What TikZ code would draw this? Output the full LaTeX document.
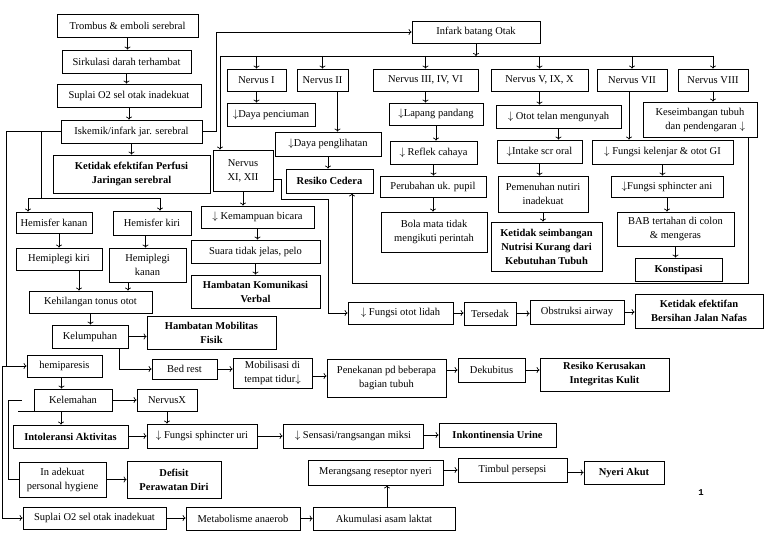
\documentclass[tikz,border=0pt]{standalone}
\usepackage{fontspec}
\setmainfont{Liberation Serif}
\setmonofont{Liberation Mono}
\usetikzlibrary{arrows}
\usetikzlibrary{arrows.meta}

\begin{document}
\begin{tikzpicture}
    [process/.style={draw, line width=0.8pt, align=center, inner sep=1pt, font=\fontsize{10.5}{14}\selectfont},
    problem/.style={process, font=\fontsize{10.5}{14}\selectfont\bfseries},
    wh/.style 2 args={minimum width=#1pt, minimum height=#2pt},
    link/.style={-{To[length=3pt, width=6pt]}, line width=0.7pt},
    pagenum/.style={font=\ttfamily\bfseries\small, inner sep=0pt},
    x=1pt, y=-1pt]
     \useasboundingbox (0,0) rectangle (768,543);
     % left column
     \node[process, wh={141}{23}] (trombus) at (127.5,25.5)  {Trombus \& emboli serebral};
     \node[process, wh={129}{23}] (sirkulasi) at (126.5,61.5) {Sirkulasi darah terhambat};
     \node[process, wh={144}{23}] (suplai) at (129,95.5)     {Suplai O2 sel otak inadekuat};
     \node[process, wh={141}{23}] (iskemik) at (131.5,131.5) {Iskemik/infark jar. serebral};
     \node[problem, wh={157}{38}] (perfusi) at (131.5,174)   {Ketidak efektifan Perfusi\\Jaringan serebral};
     % batang otak
     \node[process, wh={128}{22}] (infark) at (476,32)       {Infark batang Otak};
     \node[process, wh={59}{22}]  (n1) at (256.5,80)         {Nervus I};
     \node[process, wh={51}{22}]  (n2) at (322.5,80)         {Nervus II};
     \node[process, wh={105}{22}] (n3) at (425.5,80)         {Nervus III, IV, VI};
     \node[process, wh={97}{22}]  (n5) at (539.5,80)         {Nervus V, IX, X};
     \node[process, wh={70}{22}]  (n7) at (632,80)           {Nervus VII};
     \node[process, wh={70}{22}]  (n8) at (713,80)           {Nervus VIII};
     \node[process, wh={88}{23}]  (penciuman) at (271,114.5) {$\downarrow$Daya penciuman};
     \node[process, wh={106}{24}] (penglihatan) at (328,144) {$\downarrow$Daya penglihatan};
     \node[process, wh={60}{41}]  (n11) at (243,170.5)       {Nervus\\XI, XII};
     \node[problem, wh={87}{24}]  (cedera) at (329.5,181)    {Resiko Cedera};
     \node[process, wh={94}{22}]  (lapang) at (436,114)      {$\downarrow$Lapang pandang};
     \node[process, wh={87}{23}]  (reflek) at (433.5,152.5)  {$\downarrow$ Reflek cahaya};
     \node[process, wh={106}{21}] (pupil) at (433,186.5)     {Perubahan uk. pupil};
     \node[process, wh={106}{40}] (bola) at (434,232)        {Bola mata tidak\\mengikuti perintah};
     \node[process, wh={125}{23}] (telan) at (558.5,116.5)   {$\downarrow$ Otot telan mengunyah};
     \node[process, wh={85}{23}]  (intake) at (539.5,151.5)  {$\downarrow$Intake scr oral};
     \node[process, wh={90}{36}]  (nutiri) at (543,194)      {Pemenuhan nutiri\\inadekuat};
     \node[problem, wh={111}{49}] (nutrisi) at (546.5,246.5) {Ketidak seimbangan\\Nutrisi Kurang dari\\Kebutuhan Tubuh};
     \node[process, wh={114}{35}] (keseimbangan) at (700,119.5) {Keseimbangan tubuh\\\quad dan pendengaran $\downarrow$};
     \node[process, wh={141}{24}] (kelenjar) at (662.5,152)  {$\downarrow$ Fungsi kelenjar \& otot GI};
     \node[process, wh={112}{21}] (ani) at (667,186.5)       {$\downarrow$Fungsi sphincter ani};
     \node[process, wh={117}{34}] (bab) at (675.5,229)       {BAB tertahan di colon\\\& mengeras};
     \node[problem, wh={87}{23}]  (konstipasi) at (678.5,269.5) {Konstipasi};
     \node[process, wh={105}{22}] (lidah) at (400.5,313)     {$\downarrow$ Fungsi otot lidah};
     \node[process, wh={52}{23}]  (tersedak) at (490,313.5)  {Tersedak};
     \node[process, wh={94}{24}]  (obstruksi) at (577,312)   {Obstruksi airway};
     \node[problem, wh={128}{34}] (bersihan) at (699,311)    {Ketidak efektifan\\Bersihan Jalan Nafas};
     % hemisfer
     \node[process, wh={76}{21}]  (hkanan) at (54,222.5)     {Hemisfer kanan};
     \node[process, wh={78}{24}]  (hkiri) at (152,223)       {Hemisfer kiri};
     \node[process, wh={86}{22}]  (hpkiri) at (59,259)       {Hemiplegi kiri};
     \node[process, wh={77}{34}]  (hpkanan) at (147.5,265)   {Hemiplegi\\kanan};
     \node[process, wh={123}{22}] (tonus) at (90.5,302)      {Kehilangan tonus otot};
     \node[process, wh={76}{23}]  (kelumpuhan) at (90,336.5) {Kelumpuhan};
     \node[problem, wh={129}{33}] (mobilitas) at (211.5,332.5) {Hambatan Mobilitas\\Fisik};
     \node[process, wh={113}{22}] (bicara) at (257.5,217)    {$\downarrow$ Kemampuan bicara};
     \node[process, wh={129}{23}] (suara) at (255.5,251.5)   {Suara tidak jelas, pelo};
     \node[problem, wh={129}{33}] (komunikasi) at (255.5,291.5) {Hambatan Komunikasi\\Verbal};
     % lower part
     \node[process, wh={75}{22}]  (hemiparesis) at (64.5,366) {hemiparesis};
     \node[process, wh={65}{20}]  (bedrest) at (184.5,369)   {Bed rest};
     \node[process, wh={79}{30}]  (mobilisasi) at (272.5,373) {Mobilisasi di\\tempat tidur$\downarrow$};
     \node[process, wh={119}{38}] (penekanan) at (386.5,378) {Penekanan pd beberapa\\bagian tubuh};
     \node[process, wh={67}{24}]  (dekubitus) at (491.5,370) {Dekubitus};
     \node[problem, wh={129}{33}] (kulit) at (604.5,374.5)   {Resiko Kerusakan\\Integritas Kulit};
     \node[process, wh={78}{22}]  (kelemahan) at (73,400)    {Kelemahan};
     \node[process, wh={60}{22}]  (nervusx) at (167,400)     {NervusX};
     \node[problem, wh={115}{23}] (intoleransi) at (70.5,436.5) {Intoleransi Aktivitas};
     \node[process, wh={110}{24}] (uri) at (202,436)         {$\downarrow$ Fungsi sphincter uri};
     \node[process, wh={140}{24}] (miksi) at (353,436)       {$\downarrow$ Sensasi/rangsangan miksi};
     \node[problem, wh={117}{24}] (urine) at (497.5,435)     {Inkontinensia Urine};
     \node[process, wh={87}{35}]  (hygiene) at (62.5,479.5)  {In adekuat\\personal hygiene};
     \node[problem, wh={94}{37}]  (defisit) at (174,479.5)   {Defisit\\Perawatan Diri};
     \node[process, wh={135}{25}] (reseptor) at (375.5,472.5) {Merangsang reseptor nyeri};
     \node[process, wh={109}{24}] (persepsi) at (512.5,470)  {Timbul persepsi};
     \node[problem, wh={80}{23}]  (nyeri) at (624,472.5)     {Nyeri Akut};
     \node[process, wh={143}{22}] (suplaib) at (94.5,518)    {Suplai O2 sel otak inadekuat};
     \node[process, wh={114}{23}] (anaerob) at (243,518.5)   {Metabolisme anaerob};
     \node[process, wh={142}{23}] (laktat) at (384,518.5)    {Akumulasi asam laktat};
     \node[pagenum] (pgnum) at (701,493) {1};
     % helper points
     \coordinate (busL) at (220,56);
     \coordinate (busR) at (713,56);
     \coordinate (lefttop) at (6,131.5);
     \coordinate (leftlow) at (2.5,366);
     \coordinate (hsplit) at (41,198);
     \coordinate (kloop) at (8,400);
     \coordinate (loopc) at (352,283);
     % main chain
     \draw[link] (trombus.south) -- (trombus.south |- sirkulasi.north);
     \draw[link] (sirkulasi.south) -- (sirkulasi.south |- suplai.north);
     \draw[link] (suplai.south) -- (suplai.south |- iskemik.north);
     \draw[link] (iskemik.south) -- (iskemik.south |- perfusi.north);
     \draw[link] (iskemik.east) -- ++(14,0) |- (infark.west);
     \draw[link] (infark.south) -- (infark.south |- busL);
     \draw[line width=0.7pt] (busL) -- (busR);
     \draw[link] (busL) -- (busL |- n11.north);
     \draw[link] (n1.north |- busL) -- (n1.north);
     \draw[link] (n2.north |- busL) -- (n2.north);
     \draw[link] (n3.north |- busL) -- (n3.north);
     \draw[link] (n5.north |- busL) -- (n5.north);
     \draw[link] (n7.north |- busL) -- (n7.north);
     \draw[link] (busR) -- (n8.north);
     % nervus branches
     \draw[link] (n1.south) -- (n1.south |- penciuman.north);
     \draw[link] ([xshift=15pt]n2.south) -- ([xshift=15pt]n2.south |- penglihatan.north);
     \draw[link] (penglihatan.south) -- (penglihatan.south |- cedera.north);
     \draw[link] (n11.south) -- (n11.south |- bicara.north);
     \draw[link] (bicara.south) -- (bicara.south |- suara.north);
     \draw[link] (suara.south) -- (suara.south |- komunikasi.north);
     \draw[link] ([yshift=-8.5pt]n11.east) -- ++(8,0) -- ++(0,20) -- ++(47,0) |- (lidah.west);
     \draw[link] (n3.south) -- (n3.south |- lapang.north);
     \draw[link] (lapang.south) -- (lapang.south |- reflek.north);
     \draw[link] (reflek.south) -- (reflek.south |- pupil.north);
     \draw[link] (pupil.south) -- (pupil.south |- bola.north);
     \draw[link] (n5.south) -- (n5.south |- telan.north);
     \draw[link] (telan.south) -- (telan.south |- intake.north);
     \draw[link] (intake.south) -- (intake.south |- nutiri.north);
     \draw[link] (nutiri.south) -- (nutiri.south |- nutrisi.north);
     \draw[link] ([xshift=-3pt]n7.south) -- ([xshift=-3pt]n7.south |- kelenjar.north);
     \draw[link] (n8.south) -- (n8.south |- keseimbangan.north);
     \draw[link] (kelenjar.south) -- (kelenjar.south |- ani.north);
     \draw[link] (ani.south) -- (ani.south |- bab.north);
     \draw[link] (bab.south) -- (bab.south |- konstipasi.north);
     \draw[link] ([xshift=-9pt]keseimbangan.south east) |- (loopc) -- (loopc |- cedera.south);
     \draw[link] (lidah.east) -- (lidah.east -| tersedak.west);
     \draw[link] (tersedak.east) -- (tersedak.east -| obstruksi.west);
     \draw[link] (obstruksi.east) -- (obstruksi.east -| bersihan.west);
     % hemisfer branches
     \draw[line width=0.7pt] (iskemik.west) -- (lefttop);
     \draw[line width=0.7pt] (hsplit |- iskemik.west) -- (hsplit);
     \draw[link] (hsplit) -| ([xshift=-26pt]hkanan.north);
     \draw[link] (hsplit) -| ([xshift=8pt]hkiri.north);
     \draw[link] (hpkiri.north |- hkanan.south) -- (hpkiri.north);
     \draw[link] ([xshift=-2pt]hpkanan.north |- hkiri.south) -- ([xshift=-2pt]hpkanan.north);
     \draw[link] ([xshift=20pt]hpkiri.south) -- ([xshift=20pt]hpkiri.south |- tonus.north);
     \draw[link] ([xshift=-19.5pt]hpkanan.south) -- ([xshift=-19.5pt]hpkanan.south |- tonus.north);
     \draw[link] (tonus.south) -- (tonus.south |- kelumpuhan.north);
     \draw[link] (kelumpuhan.east) -- (kelumpuhan.east -| mobilitas.west);
     \draw[link] ([xshift=29pt]kelumpuhan.south) |- (bedrest.west);
     \draw[link] (bedrest.east) -- (bedrest.east -| mobilisasi.west);
     \draw[link] ([yshift=-3pt]mobilisasi.east) -- ([yshift=-3pt]mobilisasi.east -| penekanan.west);
     \draw[link] (dekubitus.west -| penekanan.east) -- (dekubitus.west);
     \draw[link] (dekubitus.east) -- (dekubitus.east -| kulit.west);
     % lower left
     \draw[link] (lefttop) |- (hemiparesis.west);
     \draw[line width=0.7pt] (leftlow) -- (lefttop |- leftlow);
     \draw[link] (leftlow) |- (suplaib.west);
     \draw[link] ([xshift=-3pt]hemiparesis.south) -- ([xshift=-3pt]hemiparesis.south |- kelemahan.north);
     \draw[link] (kelemahan.east) -- (kelemahan.east -| nervusx.west);
     \draw[link] ([xshift=-12pt]kelemahan.south) -- ([xshift=-12pt]kelemahan.south |- intoleransi.north);
     \draw[link] (nervusx.south) -- (nervusx.south |- uri.north);
     \draw[line width=0.7pt] ([xshift=-12pt]kelemahan.west) -- (kloop) |- (hygiene.west);
     \draw[line width=0.7pt] (kelemahan.south west) -- ++(-16,0);
     \draw[link] (intoleransi.east |- uri.west) -- (uri.west);
     \draw[link] (uri.east) -- (miksi.west);
     \draw[link] (miksi.east |- urine.west) -- (urine.west);
     \draw[link] (hygiene.east) -- (hygiene.east -| defisit.west);
     \draw[link] (suplaib.east) -- (suplaib.east -| anaerob.west);
     \draw[link] (anaerob.east) -- (anaerob.east -| laktat.west);
     \draw[link] ([xshift=3pt]laktat.north) -- ([xshift=3pt]laktat.north |- reseptor.south);
     \draw[link] (persepsi.west -| reseptor.east) -- (persepsi.west);
     \draw[link] (persepsi.east |- nyeri.west) -- (nyeri.west);
\end{tikzpicture}
\end{document}
